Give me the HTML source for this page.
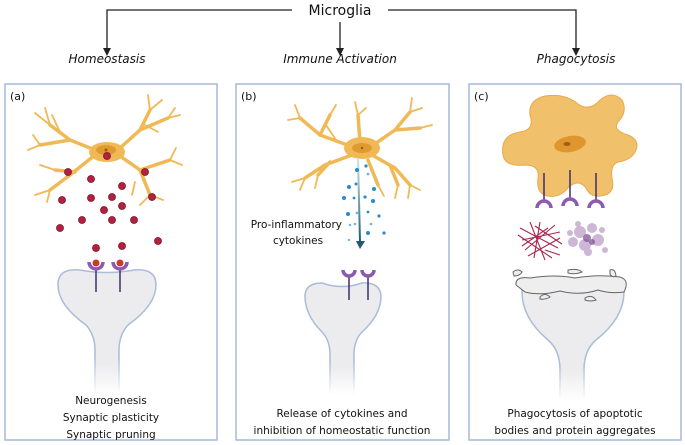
<!DOCTYPE html>
<html><head><meta charset="utf-8"><style>
html,body{margin:0;padding:0;background:#fff;width:685px;height:445px;overflow:hidden}
svg{display:block}
text{font-family:"DejaVu Sans","Liberation Sans",sans-serif;fill:#111}
</style></head><body>
<svg width="685" height="445" viewBox="0 0 685 445">
<defs>
<marker id="ah" markerWidth="8" markerHeight="8" refX="4" refY="4" orient="auto" markerUnits="userSpaceOnUse"><path d="M0,0 L8,4 L0,8 Z" fill="#222"/></marker>
<linearGradient id="fade" x1="0" y1="0" x2="0" y2="1"><stop offset="0.75" stop-color="#ececee"/><stop offset="1" stop-color="#fff"/></linearGradient>
<linearGradient id="fadeS" x1="0" y1="0" x2="0" y2="1"><stop offset="0.7" stop-color="#a9bcd8"/><stop offset="1" stop-color="#fff"/></linearGradient>
<linearGradient id="arr" x1="0" y1="0" x2="0" y2="1"><stop offset="0" stop-color="#cfe6ee"/><stop offset="1" stop-color="#1f5a6e"/></linearGradient>
</defs>

<path d="M292,10 L107,10 L107,52" fill="none" stroke="#222" stroke-width="1.3" marker-end="url(#ah)"/>
<path d="M388,10 L576,10 L576,52" fill="none" stroke="#222" stroke-width="1.3" marker-end="url(#ah)"/>
<path d="M340,22 L340,52" fill="none" stroke="#222" stroke-width="1.3" marker-end="url(#ah)"/>
<text x="340" y="15" font-size="14" text-anchor="middle">Microglia</text>
<text x="107" y="63" font-size="12" font-style="italic" text-anchor="middle">Homeostasis</text>
<text x="340" y="63" font-size="12" font-style="italic" text-anchor="middle">Immune Activation</text>
<text x="576" y="63" font-size="12" font-style="italic" text-anchor="middle">Phagocytosis</text>

<rect x="5" y="84" width="212" height="356" fill="none" stroke="#a7b9dc" stroke-width="1.5"/>
<rect x="236" y="84" width="213" height="356" fill="none" stroke="#a7b9dc" stroke-width="1.5"/>
<rect x="469" y="84" width="212" height="356" fill="none" stroke="#a7b9dc" stroke-width="1.5"/>
<text x="10" y="100" font-size="11">(a)</text>
<text x="241" y="100" font-size="11">(b)</text>
<text x="474" y="100" font-size="11">(c)</text>

<path d="M58,282 Q60,268 80,270 Q107,275 134,270 Q156,268 156,285 Q156,305 128,325 Q119,335 119,350 L119,395 L95,395 L95,350 Q95,335 86,325 Q58,305 58,285 Z" fill="url(#fade)" stroke="url(#fadeS)" stroke-width="1.5"/>
<path d="M305,295 Q306,283 322,283 Q342,290 362,283 Q380,282 381,296 Q381,315 362,332 Q354,340 354,355 L354,395 L330,395 L330,355 Q330,340 322,332 Q305,315 305,296 Z" fill="url(#fade)" stroke="url(#fadeS)" stroke-width="1.5"/>
<path d="M522,290 Q524,282 545,283 Q572,290 600,283 Q622,282 624,292 Q624,318 596,340 Q584,350 584,370 L584,400 L560,400 L560,370 Q560,350 548,340 Q522,318 522,292 Z" fill="url(#fade)" stroke="url(#fadeS)" stroke-width="1.5"/>

<g stroke="#f1b955" fill="none" stroke-linecap="round">
<g stroke-width="3.5"><path d="M95,150 L70,140 L50,125 M70,140 L40,145"/><path d="M95,155 L70,175 L50,190 M75,172 L55,170"/><path d="M120,148 L140,130 L150,110 M140,130 L168,118"/><path d="M120,156 L140,170 L150,195 M140,170 L170,160"/></g>
<g stroke-width="1.8"><path d="M50,125 L35,113 M50,125 L45,108 M40,145 L28,150 M40,145 L33,135 M50,190 L35,195 M50,190 L47,202 M55,170 L40,165 M150,110 L148,95 M150,110 L162,100 M168,118 L180,115 M168,118 L175,108 M150,195 L140,205 M150,195 L163,200 M170,160 L182,165 M170,160 L176,148 M135,182 L132,195 M60,132 L52,115 M145,125 L158,132"/></g>
</g>
<ellipse cx="107" cy="152" rx="18" ry="10" fill="#f1b955"/>
<ellipse cx="106" cy="150" rx="10" ry="5" fill="#e09a32"/>
<circle cx="106" cy="150" r="1.5" fill="#9a5a10"/>
<g fill="#b3213f" stroke="#7a1128" stroke-width="0.8">
<circle cx="107" cy="156" r="3.5"/><circle cx="68" cy="172" r="3.5"/><circle cx="145" cy="172" r="3.5"/><circle cx="91" cy="179" r="3.5"/><circle cx="122" cy="186" r="3.5"/><circle cx="62" cy="200" r="3.5"/><circle cx="91" cy="198" r="3.5"/><circle cx="112" cy="197" r="3.5"/><circle cx="152" cy="197" r="3.5"/><circle cx="104" cy="210" r="3.5"/><circle cx="122" cy="206" r="3.5"/><circle cx="82" cy="220" r="3.5"/><circle cx="112" cy="220" r="3.5"/><circle cx="134" cy="220" r="3.5"/><circle cx="60" cy="228" r="3.5"/><circle cx="158" cy="241" r="3.5"/><circle cx="96" cy="248" r="3.5"/><circle cx="122" cy="246" r="3.5"/>
</g>
<g stroke="#3d2f6b" stroke-width="1.5"><line x1="96" y1="268" x2="96" y2="292"/><line x1="120" y1="268" x2="120" y2="292"/></g>
<g fill="none" stroke="#8e5ab0" stroke-width="3.5"><path d="M89,262 A7,7 0 0 0 103,262"/><path d="M113,262 A7,7 0 0 0 127,262"/></g>
<circle cx="96" cy="263" r="3.5" fill="#c83a2a"/><circle cx="120" cy="263" r="3.5" fill="#c83a2a"/>

<g stroke="#f1b955" fill="none" stroke-linecap="round">
<g stroke-width="3.5"><path d="M350,146 L320,135 L300,118 M320,135 L330,115"/><path d="M352,155 L325,165 L305,178 M330,162 L318,175"/><path d="M372,146 L395,130 L410,112 M395,130 L420,128"/><path d="M372,155 L395,168 L410,185 M390,165 L398,185"/><path d="M360,142 L358,115"/><path d="M368,160 L378,185"/></g>
<g stroke-width="1.8"><path d="M300,118 L295,105 M300,118 L288,120 M330,115 L336,105 M305,178 L292,182 M305,178 L300,190 M318,175 L315,188 M410,112 L412,98 M410,112 L422,108 M420,128 L432,125 M410,185 L420,190 M410,185 L408,198 M398,185 L395,198 M358,115 L355,102 M358,115 L366,108 M378,185 L384,196 M336,140 L326,125"/></g>
</g>
<ellipse cx="362" cy="148" rx="18" ry="11" fill="#f1b955"/>
<ellipse cx="362" cy="148" rx="10" ry="5" fill="#e09a32"/>
<circle cx="362" cy="148" r="1.2" fill="#9a5a10"/>
<line x1="358" y1="158" x2="360" y2="242" stroke="url(#arr)" stroke-width="2"/>
<path d="M356,241 L365,241 L360,249 Z" fill="#1f5a6e"/>
<g fill="#2b8ac8">
<circle cx="357" cy="170" r="2"/><circle cx="366" cy="166" r="1.6"/><circle cx="368" cy="174" r="1.4" fill="#6fb7e0"/><circle cx="349" cy="187" r="2"/><circle cx="356" cy="184" r="1.5"/><circle cx="374" cy="189" r="2"/><circle cx="344" cy="198" r="2"/><circle cx="354" cy="198" r="1.4"/><circle cx="365" cy="197" r="1.6"/><circle cx="373" cy="201" r="2"/><circle cx="348" cy="214" r="2"/><circle cx="357" cy="213" r="1.4" fill="#6fb7e0"/><circle cx="368" cy="212" r="1.4"/><circle cx="379" cy="216" r="1.6"/><circle cx="350" cy="225" r="1.2" fill="#6fb7e0"/><circle cx="355" cy="224" r="1.3" fill="#6fb7e0"/><circle cx="371" cy="224" r="1.3" fill="#6fb7e0"/><circle cx="368" cy="233" r="2"/><circle cx="384" cy="233" r="1.6"/><circle cx="349" cy="240" r="1.2" fill="#6fb7e0"/>
</g>
<text x="342" y="228" font-size="10.5" text-anchor="end">Pro-inflammatory</text>
<text x="298" y="244" font-size="10.5" text-anchor="middle">cytokines</text>
<g stroke="#3d2f6b" stroke-width="1.5"><line x1="349" y1="276" x2="349" y2="300"/><line x1="368" y1="276" x2="368" y2="300"/></g>
<g fill="none" stroke="#8e5ab0" stroke-width="3.5"><path d="M343,270 A6,6 0 0 0 355,270"/><path d="M362,270 A6,6 0 0 0 374,270"/></g>

<path d="M503,155 Q500,135 520,132 Q535,130 530,115 Q528,100 545,96 Q565,93 578,104 Q590,112 600,100 Q612,90 622,100 Q628,112 618,122 Q612,130 628,135 Q640,140 636,150 Q632,160 618,162 Q610,165 612,178 Q616,195 600,196 Q590,197 586,188 Q578,178 568,188 Q560,198 548,196 Q536,194 538,178 Q540,165 525,165 Q505,167 503,155 Z" fill="#f1c06a" stroke="#e8a94a" stroke-width="1"/>
<ellipse cx="570" cy="144" rx="16" ry="8" transform="rotate(-10 570 144)" fill="#e0962e"/>
<ellipse cx="567" cy="144" rx="3.5" ry="2" fill="#a35c12"/>
<g stroke="#3d2f6b" stroke-width="1.5"><line x1="544" y1="173" x2="544" y2="200"/><line x1="570" y1="170" x2="570" y2="200"/><line x1="596" y1="173" x2="596" y2="200"/></g>
<g fill="none" stroke="#8e5ab0" stroke-width="3.5"><path d="M537,208 A7,7 0 0 1 551,208"/><path d="M563,206 A7,7 0 0 1 577,206"/><path d="M589,208 A7,7 0 0 1 603,208"/></g>
<g stroke="#a8284d" stroke-width="1.1" fill="none">
<path d="M520,228 L558,248 M522,240 L560,232 M525,250 L555,225 M530,222 L545,260 M518,235 L552,258 M535,226 L562,244 M528,256 L560,238 M540,222 L534,258 M522,246 L548,228 M545,250 L560,255"/>
</g>
<g fill="#a57cb5" opacity="0.55">
<circle cx="580" cy="232" r="6"/><circle cx="592" cy="228" r="5"/><circle cx="598" cy="240" r="6"/><circle cx="585" cy="245" r="6"/><circle cx="573" cy="242" r="5"/><circle cx="588" cy="252" r="4"/><circle cx="602" cy="230" r="3"/><circle cx="578" cy="224" r="3"/><circle cx="570" cy="233" r="3"/><circle cx="605" cy="250" r="3"/>
</g>
<g fill="#7b4a93" opacity="0.7"><circle cx="587" cy="238" r="4"/><circle cx="592" cy="242" r="3"/></g>
<g fill="#eeeeee" stroke="#666" stroke-width="1">
<path d="M516,285 Q515,276 530,278 Q555,274 575,278 Q598,274 620,277 Q630,280 624,292 Q610,294 598,290 Q580,296 560,291 Q540,296 525,292 Z"/>
<path d="M513,272 Q518,268 522,272 Q520,276 514,276 Z"/>
<path d="M568,270 Q578,268 582,272 Q575,275 568,273 Z"/>
<path d="M610,270 Q615,268 616,276 Q612,278 610,274 Z"/>
<path d="M540,297 Q545,292 550,297 Q545,300 540,299 Z"/>
<path d="M585,298 Q592,294 596,300 Q590,302 585,300 Z"/>
</g>

<g font-size="10.5" text-anchor="middle">
<text x="111" y="404">Neurogenesis</text>
<text x="111" y="421">Synaptic plasticity</text>
<text x="111" y="438">Synaptic pruning</text>
<text x="342" y="417">Release of cytokines and</text>
<text x="342" y="434">inhibition of homeostatic function</text>
<text x="575" y="417">Phagocytosis of apoptotic</text>
<text x="575" y="434">bodies and protein aggregates</text>
</g>
</svg>
</body></html>
